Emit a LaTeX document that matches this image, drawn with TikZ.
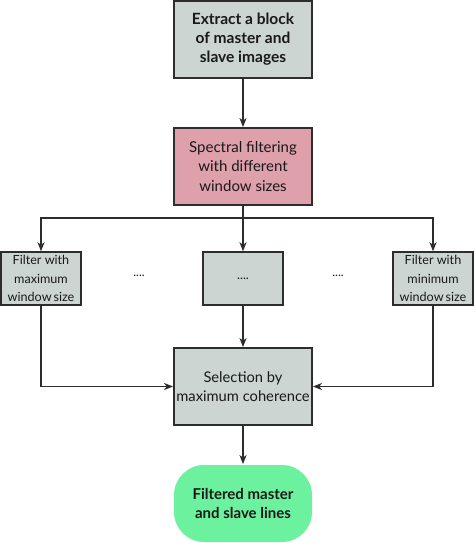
\documentclass[tikz,border=0pt]{standalone}
\usepackage{fontspec}
\setmainfont{Lato}
\usetikzlibrary{arrows.meta}
\definecolor{boxgray}{RGB}{205,213,211}
\definecolor{boxpink}{RGB}{222,160,170}
\definecolor{boxgreen}{RGB}{108,242,158}
\definecolor{edge}{RGB}{45,45,45}
\definecolor{txt}{RGB}{25,25,25}
\tikzset{
  base/.style={draw=edge, line width=1.8pt, align=center, text=txt, inner sep=0pt},
  bigbox/.style={base, minimum width=138pt, minimum height=77pt, font=\fontsize{15}{19.5}\selectfont},
  smallbox/.style={base, fill=boxgray, line width=1.4pt, minimum width=80pt, minimum height=53pt, font=\fontsize{12.6}{18.7}\selectfont},
  conn/.style={draw=edge, line width=1.4pt},
  arr/.style={conn, -{Stealth[length=9pt, width=7pt, inset=2.5pt]}},
  dots/.style={font=\fontsize{12}{13}\selectfont, text=txt, inner sep=0pt}
}
\begin{document}
\begin{tikzpicture}[x=1pt, y=-1pt]
\useasboundingbox (0,0) rectangle (474,543);
\node[bigbox, fill=boxgray, font=\fontsize{15.5}{19}\selectfont\bfseries, minimum height=77pt] (top) at (243,39.5) {Extract a block\\of master and\\slave images};
\node[bigbox, fill=boxpink] (pink) at (243,166.5) {Spectral filtering\\with different\\window sizes};
\coordinate (bj) at (243,218);
\node[smallbox] (left) at (41,278.5) {Filter with\\maximum\\window\hspace{0.15em}size};
\node[smallbox] (mid) at (243,278.5) {....};
\node[smallbox] (right) at (433,278.5) {Filter with\\minimum\\window\hspace{0.15em}size};
\node[dots] (d1) at (139,276) {....};
\node[dots] (d2) at (338,276) {....};
\node[bigbox, fill=boxgray, font=\fontsize{14.7}{19}\selectfont] (sel) at (243,386.5) {Selection by\\maximum coherence};
\node[base, fill=boxgreen, draw=none, minimum width=138pt, minimum height=77pt, rounded corners=30pt, font=\fontsize{15}{18.5}\selectfont\bfseries] (out) at (243,503.5) {Filtered master\\and slave lines};
\draw[arr] (top) -- (pink);
\draw[conn] (pink.south) -- (bj);
\draw[arr] (bj) -- (mid.north);
\draw[arr] (bj) -| (left.north);
\draw[arr] (bj) -| (right.north);
\draw[arr] (mid) -- (sel);
\draw[arr] (left.south) |- (sel.west);
\draw[arr] (right.south) |- (sel.east);
\draw[arr] (sel) -- (out);
\end{tikzpicture}
\end{document}
